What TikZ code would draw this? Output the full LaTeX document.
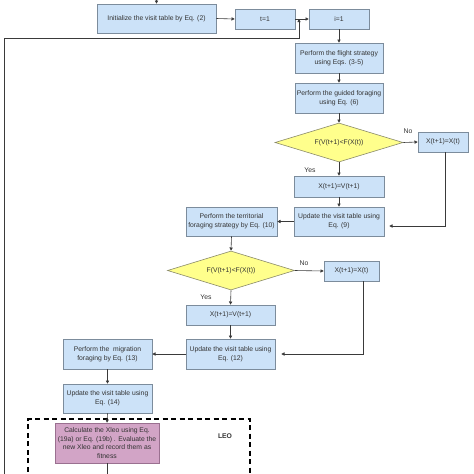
\documentclass[tikz,border=0pt]{standalone}
\usepackage{fontspec}
\setmainfont{Liberation Sans}
\usetikzlibrary{shapes.geometric,arrows.meta}
\definecolor{boxfill}{HTML}{CCE2F8}
\definecolor{boxline}{HTML}{7C8C9C}
\definecolor{dfill}{HTML}{FFFF8C}
\definecolor{dline}{HTML}{8A8A6A}
\definecolor{pfill}{HTML}{D2A4C6}
\definecolor{pline}{HTML}{9A7090}
\definecolor{conn}{HTML}{3A3A3A}
\begin{document}
\begin{tikzpicture}[x=1pt,y=-1pt,
  font=\fontsize{6.8}{8.8}\selectfont,
  proc/.style={draw=boxline,fill=boxfill,line width=0.6pt,inner sep=1pt,align=center,text=black!80},
  dec/.style={diamond,draw=dline,fill=dfill,line width=0.6pt,inner sep=0pt,text=black!80},
  leobox/.style={draw=pline,fill=pfill,line width=0.6pt,inner sep=1pt,align=center,text=black!80},
  lbl/.style={text=black!80,inner sep=0pt},
  arr/.style={draw=conn,line width=0.6pt,-{Triangle[length=3.2pt,width=3.2pt]}},
  ln/.style={draw=conn,line width=0.6pt}]
\useasboundingbox (0,0) rectangle (474,474);
\fill[white] (0,0) rectangle (474,474);

\node[proc,minimum width=119pt,minimum height=29pt] (init) at (156.5,18.5) {Initialize the visit table by Eq. (2)};
\node[proc,minimum width=60pt,minimum height=20pt] (t1) at (265,19) {t=1};
\node[proc,minimum width=60pt,minimum height=20pt] (i1) at (339,19) {i=1};
\node[proc,minimum width=88pt,minimum height=30pt] (flight) at (339,58) {Perform the flight strategy\\using Eqs. (3-5)};
\node[proc,minimum width=88pt,minimum height=30pt] (guided) at (339,98) {Perform the guided foraging\\using Eq. (6)};
\node[dec,minimum width=128pt,minimum height=39pt,aspect=3.3] (d1) at (339,142.5) {F(V(t+1)<F(X(t))};
\node[proc,minimum width=50pt,minimum height=20pt] (x1) at (443,142) {X(t+1)=X(t)};
\node[proc,minimum width=90pt,minimum height=21pt] (xv1) at (339,186.5) {X(t+1)=V(t+1)};
\node[proc,minimum width=90pt,minimum height=29pt] (upd9) at (339,221.5) {Update the visit table using\\Eq. (9)};
\node[proc,minimum width=91pt,minimum height=29pt] (terr) at (231.5,221.5) {Perform the territorial\\foraging strategy by Eq. (10)};
\node[dec,minimum width=127pt,minimum height=39pt,aspect=3.3] (d2) at (231,270.5) {F(V(t+1)<F(X(t))};
\node[proc,minimum width=55pt,minimum height=20pt] (x2) at (351.5,271) {X(t+1)=X(t)};
\node[proc,minimum width=89pt,minimum height=20pt] (xv2) at (230.5,315) {X(t+1)=V(t+1)};
\node[proc,minimum width=89pt,minimum height=30pt] (upd12) at (230.5,354) {Update the visit table using\\Eq. (12)};
\node[proc,minimum width=89pt,minimum height=30pt] (migr) at (107.5,354) {Perform the \ migration\\foraging by Eq. (13)};
\node[proc,minimum width=89pt,minimum height=29pt] (upd14) at (107.5,398.5) {Update the visit table using\\Eq. (14)};
\node[leobox,minimum width=104pt,minimum height=40pt] (leo) at (107,443) {Calculate the Xleo using Eq.\\(19a) or Eq. (19b) . Evaluate the\\new Xleo and record them as\\fitness};

\node[lbl] (no1) at (408,131) {No};
\node[lbl] (yes1) at (310,170) {Yes};
\node[lbl] (no2) at (304,263) {No};
\node[lbl] (yes2) at (206,297) {Yes};
\node[lbl,font=\fontsize{6.8}{8}\selectfont\bfseries] (leolbl) at (225,436) {LEO};

% dashed LEO frame
\draw[black,line width=1.4pt,dash pattern=on 5pt off 3.5pt] (28,480) -- (28,419) -- (250,419) -- (250,480);

% coordinates
\coordinate (top) at (156.5,-2);
\coordinate (j) at (299,19);
\coordinate (lb) at (4,476);
\coordinate (lt) at (4,38);
\coordinate (jb) at (299,38);
\coordinate (leob) at (107,476);
\coordinate (x1c) at (445,226);
\coordinate (x2c) at (363,354);

% connectors
\draw[arr] (top) -- (init.north);
\draw[arr] (init.east) -- (t1.west);
\draw[arr] (t1.east) -- (i1.west);
\draw[arr] (lb) -- (lt) -- (jb) -- (j);
\draw[arr] (i1.south) -- (flight.north);
\draw[arr] (flight.south) -- (guided.north);
\draw[arr] (guided.south) -- (d1.north);
\draw[arr] (d1.east) -- (x1.west);
\draw[arr] (d1.south) -- (xv1.north);
\draw[arr] (xv1.south) -- (upd9.north);
\draw[arr,shorten >=5pt] (x1.south -| x1c) -- (x1c) -- (upd9.east |- x1c);
\draw[arr] (upd9.west) -- (terr.east);
\draw[arr] (terr.south) -- (d2.north);
\draw[arr] (d2.east) -- (x2.west);
\draw[arr] (d2.south) -- (xv2.north);
\draw[arr] (xv2.south) -- (upd12.north);
\draw[arr,shorten >=6pt] (x2.south -| x2c) -- (x2c) -- (upd12.east |- x2c);
\draw[arr] (upd12.west) -- (migr.east);
\draw[arr] (migr.south) -- (upd14.north);
\draw[arr] (upd14.south) -- (leo.north);
\draw[ln] (leo.south) -- (leob);
\end{tikzpicture}
\end{document}
